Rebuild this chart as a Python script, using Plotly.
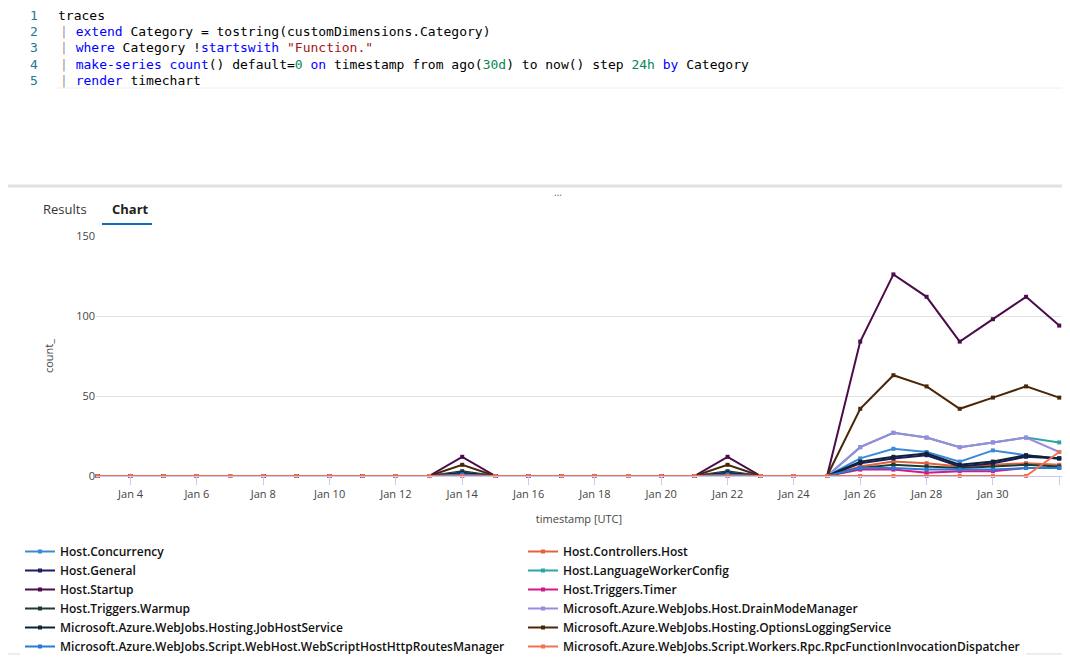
import pandas as pd
import plotly.graph_objects as go

dates = pd.date_range("2024-01-03", "2024-02-01", freq="D")

# values per day, Jan 3 .. Feb 1 (30 days)
def serie(spike14, spike22, tail):
    v = [0] * 30
    v[11] = spike14
    v[19] = spike22
    v[23:] = tail
    return v

concurrency = serie(1, 1, [11, 17, 15, 9, 16, 13, 11])
controllers_host = serie(1, 1, [6, 9, 8, 6, 7, 8, 7])
general = serie(2, 2, [8, 11, 13, 6, 8, 12, 11])
language_worker = serie(2, 2, [18, 27, 24, 18, 21, 24, 21])
startup = serie(12, 12, [84, 126, 112, 84, 98, 112, 94])
timer = serie(0, 0, [4, 4, 2, 3, 3, 5, 5])
warmup = serie(3, 3, [5, 7, 6, 5, 6, 7, 6])
drain_mode = serie(2, 2, [18, 27, 24, 18, 21, 24, 15])
job_host = serie(2, 2, [9, 12, 14, 7, 9, 13, 11])
options_logging = serie(7, 7, [42, 63, 56, 42, 49, 56, 49])
routes_manager = serie(1, 1, [5, 5, 4, 4, 4, 5, 5])
rpc_dispatcher = serie(0, 0, [0, 0, 0, 0, 0, 0, 15])

categories = [
    ("Host.Concurrency", concurrency, "#3b8ad9"),
    ("Host.Controllers.Host", controllers_host, "#e0633f"),
    ("Host.General", general, "#1c1d5e"),
    ("Host.LanguageWorkerConfig", language_worker, "#2da5a8"),
    ("Host.Startup", startup, "#4b0c4b"),
    ("Host.Triggers.Timer", timer, "#d4168f"),
    ("Host.Triggers.Warmup", warmup, "#1f3b30"),
    ("Microsoft.Azure.WebJobs.Host.DrainModeManager", drain_mode, "#9a8be0"),
    ("Microsoft.Azure.WebJobs.Hosting.JobHostService", job_host, "#0e2238"),
    ("Microsoft.Azure.WebJobs.Hosting.OptionsLoggingService", options_logging, "#4a2608"),
    ("Microsoft.Azure.WebJobs.Script.WebHost.WebScriptHostHttpRoutesManager", routes_manager, "#2b7bd6"),
    ("Microsoft.Azure.WebJobs.Script.Workers.Rpc.RpcFunctionInvocationDispatcher", rpc_dispatcher, "#f07252"),
]

fig = go.Figure()
for nom, valeurs, couleur in categories:
    fig.add_trace(go.Scatter(
        x=dates, y=valeurs, name=nom, mode="lines+markers",
        line=dict(color=couleur, width=2), marker=dict(size=4, symbol="square"),
        cliponaxis=False,
    ))

# page has an 8px body margin: positions below are page pixels, converted to paper coords
W, H = 1062, 651
L, T, R, B = 88, 228, 8, 183
PW, PH = W - L - R, H - T - B
def px_(x):
    return (x - 8 - L) / PW
def py_(y):
    return (H - B - (y - 8)) / PH

bleu, rouge, vert, noir = "#0000ff", "#a31515", "#098658", "#000000"
def s(t, c):
    return f"<span style='color:{c}'>{t}</span>"
pipe = s("| ", "#999999")
code = [
    s("traces", noir),
    pipe + s("extend", bleu) + s(" Category = tostring(customDimensions.Category)", noir),
    pipe + s("where", bleu) + s(" Category !", noir) + s("startswith", bleu) + s(' "Function."', rouge),
    pipe + s("make-series count", bleu) + s("() default=", noir) + s("0", vert) + s(" on", bleu)
    + s(" timestamp from ago(", noir) + s("30d", vert) + s(") to now() step ", noir) + s("24h", vert)
    + s(" by", bleu) + s(" Category", noir),
    pipe + s("render", bleu) + s(" timechart", noir),
]
annotations = []
for i, ligne in enumerate(code):
    y = 16 + 16 * i
    annotations.append(dict(text=str(i + 1), x=px_(40), y=py_(y), showarrow=False,
                            xanchor="right", yanchor="middle", font=dict(size=13, color="#237893", family="DejaVu Sans Mono")))
    annotations.append(dict(text=ligne, x=px_(56 if i == 0 else 58), y=py_(y), showarrow=False,
                            xanchor="left", yanchor="middle", font=dict(size=13, family="DejaVu Sans Mono")))
annotations += [
    dict(text="Results", x=px_(41), y=py_(209), showarrow=False, xanchor="left", yanchor="middle",
         font=dict(size=13, color="#333333")),
    dict(text="<b>Chart</b>", x=px_(110), y=py_(209), showarrow=False, xanchor="left", yanchor="middle",
         font=dict(size=13, color="#222222")),
    dict(text="...", x=px_(558), y=py_(183), showarrow=False, font=dict(size=10, color="#666666")),
]
for a in annotations:
    a["xref"], a["yref"] = "paper", "paper"

shapes = [
    dict(type="line", xref="paper", yref="paper", x0=px_(8), x1=px_(1070), y0=py_(186), y1=py_(186),
         line=dict(color="#e1e1e1", width=3)),
    dict(type="line", xref="paper", yref="paper", x0=px_(102), x1=px_(152),
         y0=py_(224), y1=py_(224), line=dict(color="#0f6cbd", width=2)),
    dict(type="line", xref="paper", yref="paper", x0=px_(56), x1=px_(1070),
         y0=py_(88), y1=py_(88), line=dict(color="#eeeeee", width=1)),
    dict(type="line", xref="paper", yref="paper", x0=px_(8), x1=px_(1070),
         y0=py_(2), y1=py_(2), line=dict(color="#dddddd", width=2)),
    dict(type="line", xref="paper", yref="paper", x0=px_(8), x1=px_(1070),
         y0=py_(654), y1=py_(654), line=dict(color="#dddddd", width=1)),
]

fig.update_layout(
    width=W, height=H,
    margin=dict(l=L, r=R, t=T, b=B, autoexpand=False),
    paper_bgcolor="white", plot_bgcolor="white",
    font=dict(family="Open Sans", size=11, color="#444444"),
    annotations=annotations, shapes=shapes,
    legend=dict(orientation="h", x=px_(20), y=py_(537), yanchor="top", xanchor="left",
                entrywidth=458, entrywidthmode="pixels", tracegroupgap=0,
                font=dict(size=12, color="#111111", weight=600), itemwidth=30),
    showlegend=True,
)
fig.update_xaxes(
    range=[dates[0] - pd.Timedelta(hours=1), dates[-1] + pd.Timedelta(hours=2)], showgrid=False,
    dtick=2 * 86400000, tick0="2024-01-04",
    tickformat="%b %-d", ticks="outside", ticklen=8, tickcolor="#c8c8f0",
    showline=True, linecolor="#c8c8f0", title=dict(text="timestamp [UTC]", font=dict(size=11)),
)
fig.update_yaxes(
    range=[0, 150], tickvals=[0, 50, 100, 150], gridcolor="#e3e3e3", zeroline=False,
    title=dict(text="count_", font=dict(size=11), standoff=20),
)

fig.write_html("out.html")
